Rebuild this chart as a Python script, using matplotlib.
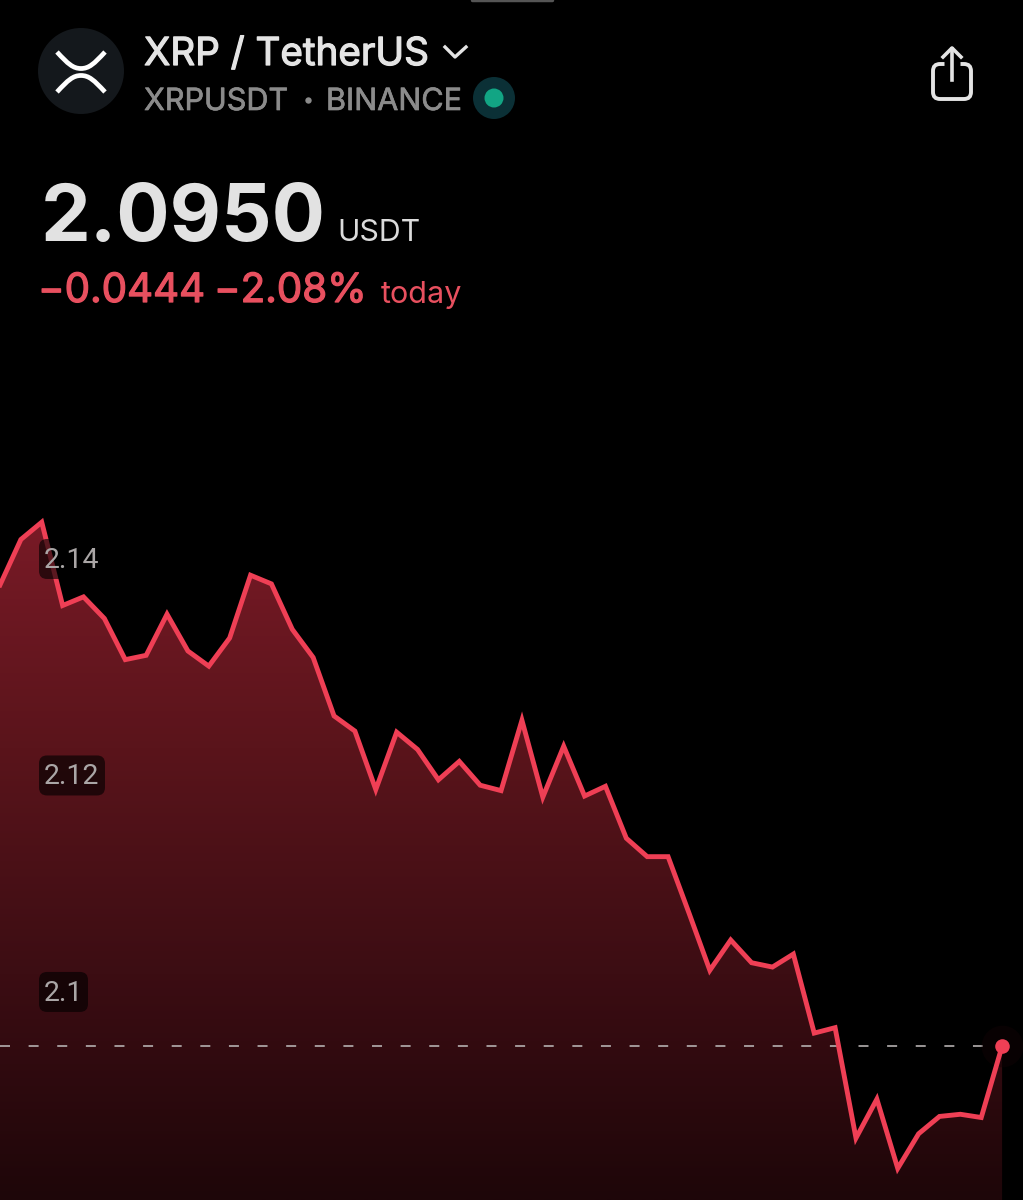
import numpy as np
import matplotlib
matplotlib.use('Agg')
import matplotlib.pyplot as plt
import matplotlib.patheffects as pe
from matplotlib.colors import LinearSegmentedColormap
from matplotlib.patches import Circle, FancyBboxPatch, PathPatch
from matplotlib.path import Path

# --- data ---
prices = [2.1376, 2.1418, 2.1434, 2.1357, 2.1365, 2.1345, 2.1307, 2.1311, 2.1349,
          2.1315, 2.1301, 2.1327, 2.1385, 2.1377, 2.1335, 2.1309, 2.1255, 2.1241,
          2.1187, 2.1240, 2.1224, 2.1196, 2.1213, 2.1191, 2.1186, 2.1251, 2.1180,
          2.1227, 2.1181, 2.1190, 2.1142, 2.1125, 2.1125, 2.1073, 2.1020, 2.1048,
          2.1027, 2.1023, 2.1035, 2.0962, 2.0967, 2.0865, 2.0901, 2.0837, 2.0869,
          2.0885, 2.0887, 2.0884, 2.0950]
tick_values = [2.14, 2.12, 2.10]
tick_labels = ['2.14', '2.12', '2.1']

title_text = 'XRP / TetherUS'
symbol_text = 'XRPUSDT'
exchange_text = 'BINANCE'
price_text = '2.0950'
unit_text = 'USDT'
change_text = '\u22120.0444'
percent_text = '\u22122.08%'
today_text = 'today'

RED = '#ef3f55'
SOFT_RED = '#e8505f'
FONT = ['Inter', 'DejaVu Sans']

plt.rcParams['font.family'] = FONT


def heavy(color, width):
    # Inter only comes in a few weights here, thicken the glyphs a bit
    return [pe.withStroke(linewidth=width, foreground=color)]


W, H = 1023, 1200
fig = plt.figure(figsize=(W / 100, H / 100), dpi=100, facecolor='black')

# --- chart axes fills the whole figure ---
ax = fig.add_axes([0, 0, 1, 1], facecolor='black')
x = np.arange(len(prices))
ax.set_xlim(0, 49.0)
ax.set_ylim(2.08078, 2.19164)
ax.set_axis_off()

# gradient under the line, clipped by the area polygon
cmap = LinearSegmentedColormap.from_list('fade', ['#1e0609', '#3c0d13', '#5a141b', '#781a26'])
grad = np.linspace(1, 0, 256).reshape(-1, 1)
img = ax.imshow(grad, cmap=cmap, aspect='auto', zorder=1, vmin=0, vmax=1,
                extent=[0, x[-1], ax.get_ylim()[0], max(prices)])
area = ax.fill_between(x, prices, ax.get_ylim()[0], color='none')
img.set_clip_path(area.get_paths()[0], transform=ax.transData)
ax.set_xlim(0, 49.0)
ax.set_ylim(2.08078, 2.19164)

# last price line
ax.plot([0, x[-1]], [prices[-1], prices[-1]], color='#b5b0b0', lw=1.2, zorder=2,
        dashes=(6.0, 11.17))
ax.plot(x, prices, color=RED, lw=3.5, zorder=3, solid_joinstyle='miter')
ax.plot(x[-1], prices[-1], 'o', color='#120305', ms=30, mew=0, alpha=0.45, zorder=2.5)
ax.plot(x[-1], prices[-1], 'o', color=RED, ms=10.5, mew=0, zorder=4)

# --- overlay in pixel coords for header + chips ---
ui = fig.add_axes([0, 0, 1, 1], facecolor='none')
ui.set_xlim(0, W)
ui.set_ylim(H, 0)
ui.set_axis_off()

# y labels with dark chips
chip_widths = [66, 66, 49]
for val, lab, cw in zip(tick_values, tick_labels, chip_widths):
    y_px = ui.transData.inverted().transform(ax.transData.transform((0, val)))[1]
    ui.add_patch(FancyBboxPatch((45, y_px - 14), cw - 12, 28, boxstyle='round,pad=6,rounding_size=8',
                                fc='black', ec='none', alpha=0.62, zorder=5))
    ui.text(44, y_px + 1.5, lab, color='#aaa6a6', fontsize=20.5, va='center', ha='left', zorder=6,
            family=['Roboto', 'DejaVu Sans'])

# logo
ui.add_patch(Circle((81, 71), 43, fc='#14181c', ec='none'))
for y0, y1 in [(52, 68.5), (92, 75.5)]:
    verts = [(57, y0), (68, y0 + (y1 - y0) * 0.72), (73, y1), (81, y1),
             (89, y1), (94, y0 + (y1 - y0) * 0.72), (105, y0)]
    codes = [Path.MOVETO, Path.CURVE4, Path.CURVE4, Path.CURVE4, Path.CURVE4, Path.CURVE4, Path.CURVE4]
    ui.add_patch(PathPatch(Path(verts, codes), fc='none', ec='white', lw=3.4, capstyle='butt'))

# header texts
ui.text(144, 65, title_text, color='#e4e4e4', fontsize=27.8, va='baseline',
        path_effects=heavy('#e4e4e4', 0.9))
ui.plot([445, 455, 466], [47, 57, 47], color='#e4e4e4', lw=2.4)
ui.text(144, 110, symbol_text, color='#8b8b8b', fontsize=22, va='baseline',
        path_effects=heavy('#8b8b8b', 0.5))
ui.plot([308], [100], 'o', color='#8b8b8b', ms=4.6, mew=0)
ui.text(326, 110, exchange_text, color='#8b8b8b', fontsize=22, va='baseline',
        path_effects=heavy('#8b8b8b', 0.5))
ui.add_patch(Circle((494, 98), 21, fc='#0b3036', ec='none'))
ui.add_patch(Circle((494, 98), 9.5, fc='#12a584', ec='none'))

ui.text(41, 241, price_text, color='#e2e2e2', fontsize=57, fontweight='bold', va='baseline')
ui.text(337, 241, unit_text, color='#dcdcdc', fontsize=21.8, va='baseline')
ui.text(38, 302, change_text, color=SOFT_RED, fontsize=29, va='baseline',
        path_effects=heavy(SOFT_RED, 0.9))
ui.text(214, 302, percent_text, color=SOFT_RED, fontsize=29, va='baseline',
        path_effects=heavy(SOFT_RED, 0.9))
ui.text(381, 303, today_text, color=SOFT_RED, fontsize=22, va='baseline')

# share icon
sq = FancyBboxPatch((933, 64), 38, 35, boxstyle='round,pad=0,rounding_size=7', fc='none',
                    ec='#e4e4e4', lw=2.8, zorder=7)
ui.add_patch(sq)
ui.plot([944, 960], [64, 64], color='black', lw=5, zorder=8, solid_capstyle='butt')
ui.plot([952, 952], [49, 80], color='#e4e4e4', lw=2.6, zorder=9)
ui.plot([943, 952, 961], [57, 48, 57], color='#e4e4e4', lw=2.6, zorder=9)

# grabber at the very top
ui.plot([472, 552], [0, 0], color='#555555', lw=2.5, solid_capstyle='round')

fig.savefig('out.png', dpi=100, facecolor='black')
